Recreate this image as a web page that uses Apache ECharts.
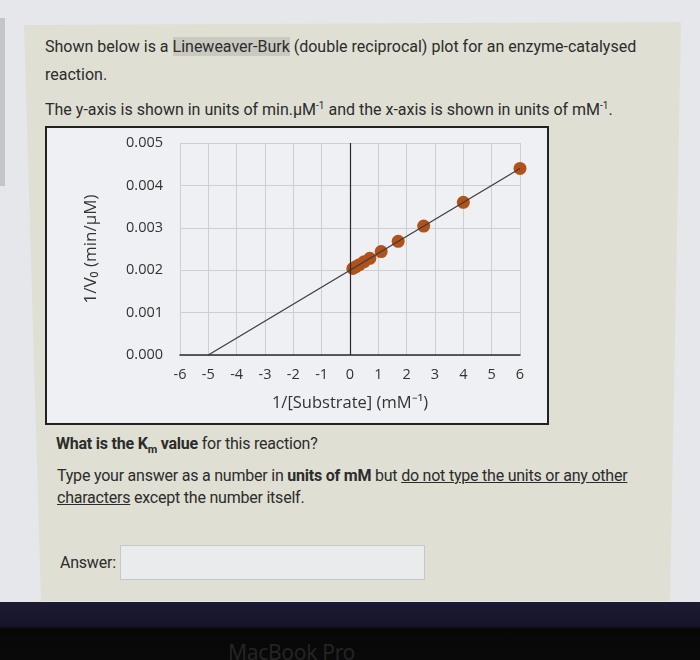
<!DOCTYPE html>
<html><head><meta charset="utf-8">
<script src="https://cdn.jsdelivr.net/npm/echarts@6/dist/echarts.min.js"></script>
<style>
html,body{margin:0;padding:0;width:700px;height:660px;overflow:hidden;background:#e6e7eb;font-family:Roboto,sans-serif;}
#strip{position:absolute;left:0;top:18px;width:5px;height:168px;background:#c4c5c9;}
#panel{position:absolute;left:0;top:0;width:700px;height:660px;background:#dfdfd3;clip-path:polygon(24px 25px,681px 22px,670px 601px,41px 601px);}
.t{position:absolute;color:#2c2c2c;font-size:16px;line-height:20px;white-space:nowrap;letter-spacing:0px;}
.lo{letter-spacing:-0.22px;}
.hl{background:#c9c9c1;}
.u{text-decoration:underline;}
#chartbox{position:absolute;left:45px;top:126px;width:504px;height:299px;box-sizing:border-box;border:2px solid #222;background:#eef0f3;}
#chart{width:500px;height:295px;}
#input{position:absolute;left:120px;top:545px;width:305px;height:35px;box-sizing:border-box;background:#e9ebed;border:1px solid #c6c8c8;}
#bezel{position:absolute;left:0;top:602px;width:700px;height:58px;background:linear-gradient(#1c1b33 0px,#15142a 24px,#070707 27px,#090909 58px);}
#mbp{position:absolute;left:228px;top:638px;font-size:21px;color:#242424;font-family:'Noto Sans',sans-serif;letter-spacing:-0.3px;}
</style></head>
<body>
<div id="strip"></div>
<div id="panel"></div>
<div class="t" style="left:45px;top:37px;">Shown below is a <span class="hl">Lineweaver-Burk</span> (double reciprocal) plot for an enzyme-catalysed</div>
<div class="t" style="left:45px;top:65px;">reaction.</div>
<div class="t" style="left:45px;top:96px;">The y-axis is shown in units of min.µM<sup style="font-size:10px;">-1</sup> and the x-axis is shown in units of mM<sup style="font-size:10px;">-1</sup>.</div>
<div id="chartbox"><div id="chart"></div></div>
<div class="t lo" style="left:56px;top:434px;"><b>What is the K<sub style="font-size:11px;">m</sub> value</b> for this reaction?</div>
<div class="t lo" style="left:57px;top:466px;">Type your answer as a number in <b>units of mM</b> but <span class="u">do not type the units or any other</span></div>
<div class="t lo" style="left:57px;top:488px;"><span class="u">characters</span> except the number itself.</div>
<div class="t lo" style="left:60px;top:553px;">Answer:</div>
<div id="input"></div>
<div id="bezel"></div>
<div id="mbp">MacBook Pro</div>
<script>
// Data
const substrateInv = [0.1, 0.2, 0.33, 0.5, 0.7, 1.1, 1.7, 2.6, 4.0, 6.0];   // 1/[S] (mM^-1)
const velocityInv  = [0.00204, 0.00208, 0.00213, 0.0022, 0.00228, 0.00244, 0.00268, 0.00304, 0.0036, 0.0044]; // 1/V0
const fitX = [-5, 6];
const fitY = [0, 0.0044];
const xTicks = ['-6','-5','-4','-3','-2','-1','0','1','2','3','4','5','6'];
const yTicks = ['0.000','0.001','0.002','0.003','0.004','0.005'];

const chart = echarts.init(document.getElementById('chart'), null, {renderer:'canvas'});
const gridCol = '#cdd0d3';
const txt = '#333';
chart.setOption({
  animation:false,
  backgroundColor:'#eef0f3',
  grid:{left:133, top:15, width:340, height:212},
  xAxis:{
    type:'value', min:-6, max:6, interval:1,
    axisLine:{show:true, onZero:false, lineStyle:{color:'#2a2a2a', width:1.5}},
    axisTick:{show:false},
    axisLabel:{margin:12, fontSize:14.5, color:txt, fontFamily:'Open Sans',
      formatter:(v)=>xTicks[Math.round(v)+6]},
    splitLine:{show:true, lineStyle:{color:gridCol, width:1}},
    name:'1/[Substrate] (mM⁻¹)', nameLocation:'middle', nameGap:40,
    nameTextStyle:{fontSize:16.5, color:txt, fontFamily:'Open Sans'}
  },
  yAxis:{
    type:'value', min:0, max:0.005, interval:0.001,
    axisLine:{show:false},
    axisTick:{show:false},
    axisLabel:{margin:17, fontSize:14.5, color:txt, fontFamily:'Open Sans',
      formatter:(v)=>yTicks[Math.round(v*1000)]},
    splitLine:{show:true, lineStyle:{color:gridCol, width:1}},
    name:'1/V₀ (min/µM)', nameLocation:'middle', nameGap:80,
    nameTextStyle:{fontSize:17, color:txt, fontFamily:'Open Sans'}
  },
  series:[
    {
      type:'scatter', symbol:'circle', symbolSize:13,
      itemStyle:{color:'#b1521a', opacity:1},
      data:substrateInv.map((x,i)=>[x, velocityInv[i]]),
      z:2
    },
    {
      type:'line', showSymbol:false, symbol:'none',
      lineStyle:{color:'#3a3a3a', width:1.2},
      data:fitX.map((x,i)=>[x, fitY[i]]),
      z:3,
      markLine:{silent:true, symbol:'none', label:{show:false},
        lineStyle:{color:'#2a2a2a', width:1.2, type:'solid'},
        data:[{xAxis:0}]}
    }
  ]
});
</script>
</body></html>
